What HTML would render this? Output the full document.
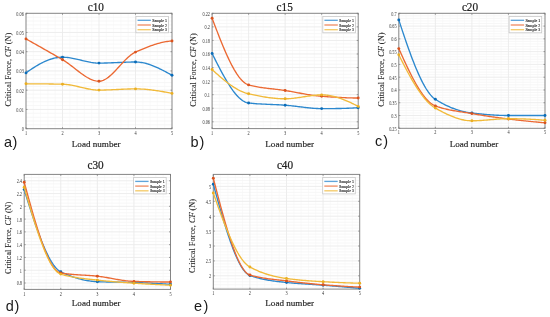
<!DOCTYPE html>
<html><head><meta charset="utf-8"><style>
html,body{margin:0;padding:0;background:#fff;}
svg{display:block;will-change:transform;}
text{font-family:"Liberation Serif",serif;}
.s{font-family:"Liberation Sans",sans-serif;}
</style></head><body>
<svg width="550" height="317" viewBox="0 0 550 317">
<rect width="550" height="317" fill="#fff"/>
<path d="M33.30,13.3V128.7 M40.60,13.3V128.7 M47.90,13.3V128.7 M55.20,13.3V128.7 M69.80,13.3V128.7 M77.10,13.3V128.7 M84.40,13.3V128.7 M91.70,13.3V128.7 M106.30,13.3V128.7 M113.60,13.3V128.7 M120.90,13.3V128.7 M128.20,13.3V128.7 M142.80,13.3V128.7 M150.10,13.3V128.7 M157.40,13.3V128.7 M164.70,13.3V128.7" stroke="#f9f9f9" stroke-width="0.8" fill="none"/>
<path d="M26.0,124.85H172.0 M26.0,121.01H172.0 M26.0,117.16H172.0 M26.0,113.31H172.0 M26.0,105.62H172.0 M26.0,101.77H172.0 M26.0,97.93H172.0 M26.0,94.08H172.0 M26.0,86.39H172.0 M26.0,82.54H172.0 M26.0,78.69H172.0 M26.0,74.85H172.0 M26.0,67.15H172.0 M26.0,63.31H172.0 M26.0,59.46H172.0 M26.0,55.61H172.0 M26.0,47.92H172.0 M26.0,44.07H172.0 M26.0,40.23H172.0 M26.0,36.38H172.0 M26.0,28.69H172.0 M26.0,24.84H172.0 M26.0,20.99H172.0 M26.0,17.15H172.0" stroke="#f5f5f5" stroke-width="0.8" fill="none"/>
<path d="M62.50,13.3V128.7 M99.00,13.3V128.7 M135.50,13.3V128.7 M26.0,109.45H172.0 M26.0,90.20H172.0 M26.0,70.95H172.0 M26.0,51.70H172.0 M26.0,32.45H172.0" stroke="#ebebeb" stroke-width="0.9" fill="none"/>
<rect x="26.0" y="13.3" width="146.00" height="115.40" fill="none" stroke="#858585" stroke-width="1.0"/>
<path d="M26.00,128.7v-1.5M26.00,13.3v1.5M62.50,128.7v-1.5M62.50,13.3v1.5M99.00,128.7v-1.5M99.00,13.3v1.5M135.50,128.7v-1.5M135.50,13.3v1.5M172.00,128.7v-1.5M172.00,13.3v1.5M26.0,128.70h1.5M172.0,128.70h-1.5M26.0,109.45h1.5M172.0,109.45h-1.5M26.0,90.20h1.5M172.0,90.20h-1.5M26.0,70.95h1.5M172.0,70.95h-1.5M26.0,51.70h1.5M172.0,51.70h-1.5M26.0,32.45h1.5M172.0,32.45h-1.5M26.0,13.30h1.5M172.0,13.30h-1.5" stroke="#777" stroke-width="0.7" fill="none"/>
<text transform="translate(26.00,134.80) scale(0.95,1.15)" font-size="4.5" fill="#333" text-anchor="middle">1</text>
<text transform="translate(62.50,134.80) scale(0.95,1.15)" font-size="4.5" fill="#333" text-anchor="middle">2</text>
<text transform="translate(99.00,134.80) scale(0.95,1.15)" font-size="4.5" fill="#333" text-anchor="middle">3</text>
<text transform="translate(135.50,134.80) scale(0.95,1.15)" font-size="4.5" fill="#333" text-anchor="middle">4</text>
<text transform="translate(172.00,134.80) scale(0.95,1.15)" font-size="4.5" fill="#333" text-anchor="middle">5</text>
<text transform="translate(23.80,131.10) scale(0.95,1.15)" font-size="4.5" fill="#333" text-anchor="end">0</text>
<text transform="translate(23.80,111.85) scale(0.95,1.15)" font-size="4.5" fill="#333" text-anchor="end">0.01</text>
<text transform="translate(23.80,92.60) scale(0.95,1.15)" font-size="4.5" fill="#333" text-anchor="end">0.02</text>
<text transform="translate(23.80,73.35) scale(0.95,1.15)" font-size="4.5" fill="#333" text-anchor="end">0.03</text>
<text transform="translate(23.80,54.10) scale(0.95,1.15)" font-size="4.5" fill="#333" text-anchor="end">0.04</text>
<text transform="translate(23.80,34.85) scale(0.95,1.15)" font-size="4.5" fill="#333" text-anchor="end">0.05</text>
<text transform="translate(23.80,15.70) scale(0.95,1.15)" font-size="4.5" fill="#333" text-anchor="end">0.06</text>
<path d="M26.00,72.90 27.23,72.02 28.45,71.15 29.68,70.29 30.91,69.46 32.13,68.64 33.36,67.84 34.59,67.06 35.82,66.30 37.04,65.56 38.27,64.85 39.50,64.16 40.72,63.49 41.95,62.86 43.18,62.25 44.40,61.67 45.63,61.12 46.86,60.60 48.08,60.11 49.31,59.66 50.54,59.24 51.76,58.86 52.99,58.51 54.22,58.20 55.45,57.93 56.67,57.71 57.90,57.52 59.13,57.37 60.35,57.27 61.58,57.21 62.81,57.20 64.03,57.23 65.26,57.30 66.49,57.40 67.71,57.53 68.94,57.69 70.17,57.87 71.39,58.08 72.62,58.31 73.85,58.56 75.08,58.82 76.30,59.09 77.53,59.38 78.76,59.67 79.98,59.96 81.21,60.26 82.44,60.56 83.66,60.85 84.89,61.14 86.12,61.41 87.34,61.68 88.57,61.93 89.80,62.16 91.03,62.38 92.25,62.57 93.48,62.74 94.71,62.87 95.93,62.98 97.16,63.06 98.39,63.10 99.61,63.10 100.84,63.09 102.07,63.08 103.29,63.06 104.52,63.03 105.75,63.00 106.97,62.97 108.20,62.93 109.43,62.88 110.66,62.84 111.88,62.79 113.11,62.73 114.34,62.68 115.56,62.63 116.79,62.57 118.02,62.52 119.24,62.46 120.47,62.41 121.70,62.35 122.92,62.30 124.15,62.25 125.38,62.21 126.61,62.16 127.83,62.13 129.06,62.09 130.29,62.06 131.51,62.04 132.74,62.02 133.97,62.01 135.19,62.00 136.42,62.01 137.65,62.07 138.87,62.16 140.10,62.30 141.33,62.47 142.55,62.68 143.78,62.93 145.01,63.21 146.24,63.52 147.46,63.87 148.69,64.25 149.92,64.65 151.14,65.08 152.37,65.54 153.60,66.03 154.82,66.53 156.05,67.06 157.28,67.61 158.50,68.18 159.73,68.77 160.96,69.37 162.18,69.99 163.41,70.62 164.64,71.26 165.87,71.91 167.09,72.58 168.32,73.25 169.55,73.93 170.77,74.61 172.00,75.30" stroke="#2C88CE" stroke-width="1.35" fill="none" stroke-linejoin="round"/>
<circle cx="26.00" cy="72.90" r="1.45" fill="#0A6CB8"/><circle cx="62.50" cy="57.20" r="1.45" fill="#0A6CB8"/><circle cx="99.00" cy="63.10" r="1.45" fill="#0A6CB8"/><circle cx="135.50" cy="62.00" r="1.45" fill="#0A6CB8"/><circle cx="172.00" cy="75.30" r="1.45" fill="#0A6CB8"/>
<path d="M26.00,38.90 27.23,39.59 28.45,40.28 29.68,40.97 30.91,41.66 32.13,42.35 33.36,43.04 34.59,43.73 35.82,44.42 37.04,45.12 38.27,45.81 39.50,46.51 40.72,47.21 41.95,47.90 43.18,48.60 44.40,49.30 45.63,50.00 46.86,50.70 48.08,51.40 49.31,52.10 50.54,52.81 51.76,53.51 52.99,54.21 54.22,54.92 55.45,55.63 56.67,56.33 57.90,57.04 59.13,57.75 60.35,58.46 61.58,59.17 62.81,59.88 64.03,60.63 65.26,61.42 66.49,62.25 67.71,63.11 68.94,64.00 70.17,64.92 71.39,65.86 72.62,66.81 73.85,67.76 75.08,68.73 76.30,69.69 77.53,70.65 78.76,71.59 79.98,72.52 81.21,73.43 82.44,74.31 83.66,75.17 84.89,75.98 86.12,76.76 87.34,77.49 88.57,78.17 89.80,78.79 91.03,79.36 92.25,79.86 93.48,80.28 94.71,80.64 95.93,80.91 97.16,81.09 98.39,81.19 99.61,81.18 100.84,81.02 102.07,80.72 103.29,80.28 104.52,79.72 105.75,79.03 106.97,78.24 108.20,77.35 109.43,76.37 110.66,75.31 111.88,74.18 113.11,72.99 114.34,71.75 115.56,70.47 116.79,69.16 118.02,67.82 119.24,66.48 120.47,65.13 121.70,63.79 122.92,62.46 124.15,61.16 125.38,59.90 126.61,58.68 127.83,57.52 129.06,56.42 130.29,55.40 131.51,54.46 132.74,53.61 133.97,52.87 135.19,52.24 136.42,51.70 137.65,51.16 138.87,50.63 140.10,50.10 141.33,49.57 142.55,49.06 143.78,48.55 145.01,48.05 146.24,47.56 147.46,47.08 148.69,46.61 149.92,46.15 151.14,45.70 152.37,45.27 153.60,44.85 154.82,44.45 156.05,44.07 157.28,43.70 158.50,43.35 159.73,43.03 160.96,42.72 162.18,42.43 163.41,42.16 164.64,41.92 165.87,41.70 167.09,41.51 168.32,41.34 169.55,41.20 170.77,41.09 172.00,41.00" stroke="#EB6933" stroke-width="1.35" fill="none" stroke-linejoin="round"/>
<circle cx="26.00" cy="38.90" r="1.45" fill="#D9531E"/><circle cx="62.50" cy="59.70" r="1.45" fill="#D9531E"/><circle cx="99.00" cy="81.20" r="1.45" fill="#D9531E"/><circle cx="135.50" cy="52.10" r="1.45" fill="#D9531E"/><circle cx="172.00" cy="41.00" r="1.45" fill="#D9531E"/>
<path d="M26.00,83.80 27.23,83.80 28.45,83.80 29.68,83.80 30.91,83.81 32.13,83.81 33.36,83.82 34.59,83.82 35.82,83.83 37.04,83.84 38.27,83.85 39.50,83.86 40.72,83.87 41.95,83.88 43.18,83.89 44.40,83.91 45.63,83.92 46.86,83.94 48.08,83.95 49.31,83.97 50.54,83.99 51.76,84.01 52.99,84.03 54.22,84.05 55.45,84.07 56.67,84.09 57.90,84.11 59.13,84.13 60.35,84.16 61.58,84.18 62.81,84.21 64.03,84.26 65.26,84.34 66.49,84.46 67.71,84.61 68.94,84.78 70.17,84.97 71.39,85.18 72.62,85.42 73.85,85.67 75.08,85.93 76.30,86.20 77.53,86.48 78.76,86.77 79.98,87.06 81.21,87.35 82.44,87.64 83.66,87.93 84.89,88.21 86.12,88.47 87.34,88.73 88.57,88.97 89.80,89.20 91.03,89.41 92.25,89.59 93.48,89.75 94.71,89.88 95.93,89.99 97.16,90.06 98.39,90.10 99.61,90.10 100.84,90.09 102.07,90.08 103.29,90.05 104.52,90.03 105.75,89.99 106.97,89.95 108.20,89.91 109.43,89.86 110.66,89.81 111.88,89.76 113.11,89.70 114.34,89.64 115.56,89.58 116.79,89.52 118.02,89.46 119.24,89.40 120.47,89.34 121.70,89.29 122.92,89.23 124.15,89.18 125.38,89.13 126.61,89.08 127.83,89.04 129.06,89.00 130.29,88.97 131.51,88.94 132.74,88.92 133.97,88.91 135.19,88.90 136.42,88.90 137.65,88.92 138.87,88.95 140.10,88.99 141.33,89.05 142.55,89.12 143.78,89.20 145.01,89.29 146.24,89.39 147.46,89.50 148.69,89.63 149.92,89.76 151.14,89.90 152.37,90.05 153.60,90.21 154.82,90.38 156.05,90.56 157.28,90.74 158.50,90.93 159.73,91.13 160.96,91.33 162.18,91.54 163.41,91.76 164.64,91.98 165.87,92.21 167.09,92.44 168.32,92.67 169.55,92.91 170.77,93.15 172.00,93.40" stroke="#F1BA3A" stroke-width="1.35" fill="none" stroke-linejoin="round"/>
<circle cx="26.00" cy="83.80" r="1.45" fill="#EAAE22"/><circle cx="62.50" cy="84.20" r="1.45" fill="#EAAE22"/><circle cx="99.00" cy="90.10" r="1.45" fill="#EAAE22"/><circle cx="135.50" cy="88.90" r="1.45" fill="#EAAE22"/><circle cx="172.00" cy="93.40" r="1.45" fill="#EAAE22"/>
<rect x="135.90" y="16.40" width="32.6" height="16.4" fill="#fff" stroke="#c8c8c8" stroke-width="0.8"/>
<path d="M137.50,20.30h13.4" stroke="#2C88CE" stroke-width="1.35" opacity="0.75"/>
<text x="152.20" y="21.90" font-size="4.9" fill="#1a1a1a" stroke="#1a1a1a" stroke-width="0.12" textLength="14.9" lengthAdjust="spacingAndGlyphs">Sample 1</text>
<path d="M137.50,25.00h13.4" stroke="#EB6933" stroke-width="1.35" opacity="0.75"/>
<text x="152.20" y="26.60" font-size="4.9" fill="#1a1a1a" stroke="#1a1a1a" stroke-width="0.12" textLength="14.9" lengthAdjust="spacingAndGlyphs">Sample 2</text>
<path d="M137.50,29.70h13.4" stroke="#F1BA3A" stroke-width="1.35" opacity="0.75"/>
<text x="152.20" y="31.30" font-size="4.9" fill="#1a1a1a" stroke="#1a1a1a" stroke-width="0.12" textLength="14.9" lengthAdjust="spacingAndGlyphs">Sample 3</text>
<text x="95.8" y="10.5" font-size="11.5" fill="#222" stroke="#222" stroke-width="0.22" text-anchor="middle" textLength="16.2" lengthAdjust="spacingAndGlyphs">c10</text>
<text x="96.2" y="147.3" font-size="9.1" fill="#222" stroke="#222" stroke-width="0.15" text-anchor="middle">Load number</text>
<text transform="translate(11.1,69.7) rotate(-90)" font-size="8.3" fill="#2a2a2a" stroke="#2a2a2a" stroke-width="0.1" text-anchor="middle" textLength="73.7" lengthAdjust="spacingAndGlyphs">Critical Force, <tspan font-style="italic">CF</tspan> (N)</text>
<text class="s" x="4.0" y="147.2" font-size="14.5" fill="#1a1a1a">a</text>
<text class="s" x="12.6" y="147.2" font-size="14.5" fill="#1a1a1a">)</text>
<path d="M219.41,13.3V128.6 M226.71,13.3V128.6 M234.01,13.3V128.6 M241.32,13.3V128.6 M255.93,13.3V128.6 M263.24,13.3V128.6 M270.54,13.3V128.6 M277.84,13.3V128.6 M292.45,13.3V128.6 M299.76,13.3V128.6 M307.06,13.3V128.6 M314.37,13.3V128.6 M328.98,13.3V128.6 M336.28,13.3V128.6 M343.59,13.3V128.6 M350.89,13.3V128.6" stroke="#f9f9f9" stroke-width="0.8" fill="none"/>
<path d="M212.1,125.19H358.2 M212.1,118.41H358.2 M212.1,115.02H358.2 M212.1,111.63H358.2 M212.1,104.85H358.2 M212.1,101.46H358.2 M212.1,98.07H358.2 M212.1,91.28H358.2 M212.1,87.89H358.2 M212.1,84.50H358.2 M212.1,77.72H358.2 M212.1,74.33H358.2 M212.1,70.94H358.2 M212.1,64.16H358.2 M212.1,60.77H358.2 M212.1,57.38H358.2 M212.1,50.60H358.2 M212.1,47.21H358.2 M212.1,43.82H358.2 M212.1,37.03H358.2 M212.1,33.64H358.2 M212.1,30.25H358.2 M212.1,23.47H358.2 M212.1,20.08H358.2 M212.1,16.69H358.2" stroke="#f5f5f5" stroke-width="0.8" fill="none"/>
<path d="M248.62,13.3V128.6 M285.15,13.3V128.6 M321.67,13.3V128.6 M212.1,121.80H358.2 M212.1,108.24H358.2 M212.1,94.68H358.2 M212.1,81.11H358.2 M212.1,67.55H358.2 M212.1,53.99H358.2 M212.1,40.43H358.2 M212.1,26.86H358.2" stroke="#ebebeb" stroke-width="0.9" fill="none"/>
<rect x="212.1" y="13.3" width="146.10" height="115.30" fill="none" stroke="#858585" stroke-width="1.0"/>
<path d="M212.10,128.6v-1.5M212.10,13.3v1.5M248.62,128.6v-1.5M248.62,13.3v1.5M285.15,128.6v-1.5M285.15,13.3v1.5M321.67,128.6v-1.5M321.67,13.3v1.5M358.20,128.6v-1.5M358.20,13.3v1.5M212.1,121.80h1.5M358.2,121.80h-1.5M212.1,108.24h1.5M358.2,108.24h-1.5M212.1,94.68h1.5M358.2,94.68h-1.5M212.1,81.11h1.5M358.2,81.11h-1.5M212.1,67.55h1.5M358.2,67.55h-1.5M212.1,53.99h1.5M358.2,53.99h-1.5M212.1,40.43h1.5M358.2,40.43h-1.5M212.1,26.86h1.5M358.2,26.86h-1.5M212.1,13.30h1.5M358.2,13.30h-1.5" stroke="#777" stroke-width="0.7" fill="none"/>
<text transform="translate(212.10,134.70) scale(0.95,1.15)" font-size="4.5" fill="#333" text-anchor="middle">1</text>
<text transform="translate(248.62,134.70) scale(0.95,1.15)" font-size="4.5" fill="#333" text-anchor="middle">2</text>
<text transform="translate(285.15,134.70) scale(0.95,1.15)" font-size="4.5" fill="#333" text-anchor="middle">3</text>
<text transform="translate(321.67,134.70) scale(0.95,1.15)" font-size="4.5" fill="#333" text-anchor="middle">4</text>
<text transform="translate(358.20,134.70) scale(0.95,1.15)" font-size="4.5" fill="#333" text-anchor="middle">5</text>
<text transform="translate(209.90,124.20) scale(0.95,1.15)" font-size="4.5" fill="#333" text-anchor="end">0.06</text>
<text transform="translate(209.90,110.64) scale(0.95,1.15)" font-size="4.5" fill="#333" text-anchor="end">0.08</text>
<text transform="translate(209.90,97.08) scale(0.95,1.15)" font-size="4.5" fill="#333" text-anchor="end">0.1</text>
<text transform="translate(209.90,83.51) scale(0.95,1.15)" font-size="4.5" fill="#333" text-anchor="end">0.12</text>
<text transform="translate(209.90,69.95) scale(0.95,1.15)" font-size="4.5" fill="#333" text-anchor="end">0.14</text>
<text transform="translate(209.90,56.39) scale(0.95,1.15)" font-size="4.5" fill="#333" text-anchor="end">0.16</text>
<text transform="translate(209.90,42.83) scale(0.95,1.15)" font-size="4.5" fill="#333" text-anchor="end">0.18</text>
<text transform="translate(209.90,29.26) scale(0.95,1.15)" font-size="4.5" fill="#333" text-anchor="end">0.2</text>
<text transform="translate(209.90,15.70) scale(0.95,1.15)" font-size="4.5" fill="#333" text-anchor="end">0.22</text>
<path d="M212.10,53.50 213.33,55.96 214.56,58.40 215.78,60.83 217.01,63.25 218.24,65.63 219.47,67.99 220.69,70.32 221.92,72.60 223.15,74.85 224.38,77.04 225.61,79.18 226.83,81.26 228.06,83.27 229.29,85.22 230.52,87.10 231.74,88.89 232.97,90.61 234.20,92.23 235.43,93.76 236.65,95.19 237.88,96.52 239.11,97.74 240.34,98.85 241.57,99.84 242.79,100.71 244.02,101.45 245.25,102.06 246.48,102.53 247.70,102.85 248.93,103.04 250.16,103.17 251.39,103.29 252.62,103.41 253.84,103.52 255.07,103.62 256.30,103.71 257.53,103.80 258.75,103.88 259.98,103.95 261.21,104.02 262.44,104.08 263.66,104.15 264.89,104.20 266.12,104.26 267.35,104.31 268.58,104.36 269.80,104.42 271.03,104.47 272.26,104.52 273.49,104.57 274.71,104.62 275.94,104.67 277.17,104.73 278.40,104.79 279.63,104.85 280.85,104.92 282.08,104.99 283.31,105.07 284.54,105.16 285.76,105.25 286.99,105.35 288.22,105.46 289.45,105.57 290.67,105.70 291.90,105.83 293.13,105.97 294.36,106.12 295.59,106.26 296.81,106.41 298.04,106.57 299.27,106.72 300.50,106.87 301.72,107.03 302.95,107.18 304.18,107.33 305.41,107.47 306.64,107.61 307.86,107.75 309.09,107.88 310.32,108.00 311.55,108.11 312.77,108.21 314.00,108.31 315.23,108.39 316.46,108.46 317.68,108.52 318.91,108.56 320.14,108.59 321.37,108.60 322.60,108.60 323.82,108.60 325.05,108.60 326.28,108.60 327.51,108.60 328.73,108.59 329.96,108.59 331.19,108.58 332.42,108.58 333.65,108.57 334.87,108.56 336.10,108.54 337.33,108.53 338.56,108.51 339.78,108.49 341.01,108.47 342.24,108.44 343.47,108.41 344.69,108.37 345.92,108.34 347.15,108.29 348.38,108.25 349.61,108.20 350.83,108.14 352.06,108.08 353.29,108.02 354.52,107.95 355.74,107.87 356.97,107.79 358.20,107.70" stroke="#2C88CE" stroke-width="1.35" fill="none" stroke-linejoin="round"/>
<circle cx="212.10" cy="53.50" r="1.45" fill="#0A6CB8"/><circle cx="248.62" cy="103.00" r="1.45" fill="#0A6CB8"/><circle cx="285.15" cy="105.20" r="1.45" fill="#0A6CB8"/><circle cx="321.67" cy="108.60" r="1.45" fill="#0A6CB8"/><circle cx="358.20" cy="107.70" r="1.45" fill="#0A6CB8"/>
<path d="M212.10,18.20 213.33,21.46 214.56,24.71 215.78,27.93 217.01,31.13 218.24,34.29 219.47,37.41 220.69,40.48 221.92,43.51 223.15,46.47 224.38,49.37 225.61,52.21 226.83,54.96 228.06,57.64 229.29,60.23 230.52,62.72 231.74,65.12 232.97,67.41 234.20,69.59 235.43,71.65 236.65,73.60 237.88,75.41 239.11,77.09 240.34,78.63 241.57,80.02 242.79,81.26 244.02,82.34 245.25,83.26 246.48,84.01 247.70,84.59 248.93,84.99 250.16,85.32 251.39,85.63 252.62,85.92 253.84,86.19 255.07,86.45 256.30,86.69 257.53,86.92 258.75,87.13 259.98,87.33 261.21,87.52 262.44,87.70 263.66,87.87 264.89,88.03 266.12,88.19 267.35,88.33 268.58,88.48 269.80,88.62 271.03,88.75 272.26,88.89 273.49,89.03 274.71,89.16 275.94,89.30 277.17,89.44 278.40,89.58 279.63,89.73 280.85,89.89 282.08,90.05 283.31,90.22 284.54,90.41 285.76,90.60 286.99,90.80 288.22,91.00 289.45,91.21 290.67,91.43 291.90,91.65 293.13,91.87 294.36,92.10 295.59,92.33 296.81,92.56 298.04,92.79 299.27,93.02 300.50,93.25 301.72,93.47 302.95,93.70 304.18,93.92 305.41,94.14 306.64,94.35 307.86,94.56 309.09,94.76 310.32,94.96 311.55,95.15 312.77,95.32 314.00,95.49 315.23,95.65 316.46,95.80 317.68,95.94 318.91,96.07 320.14,96.18 321.37,96.28 322.60,96.37 323.82,96.45 325.05,96.54 326.28,96.63 327.51,96.71 328.73,96.80 329.96,96.88 331.19,96.96 332.42,97.04 333.65,97.12 334.87,97.19 336.10,97.27 337.33,97.34 338.56,97.41 339.78,97.47 341.01,97.53 342.24,97.59 343.47,97.65 344.69,97.70 345.92,97.75 347.15,97.80 348.38,97.84 349.61,97.87 350.83,97.91 352.06,97.93 353.29,97.96 354.52,97.98 355.74,97.99 356.97,98.00 358.20,98.00" stroke="#EB6933" stroke-width="1.35" fill="none" stroke-linejoin="round"/>
<circle cx="212.10" cy="18.20" r="1.45" fill="#D9531E"/><circle cx="248.62" cy="84.90" r="1.45" fill="#D9531E"/><circle cx="285.15" cy="90.50" r="1.45" fill="#D9531E"/><circle cx="321.67" cy="96.30" r="1.45" fill="#D9531E"/><circle cx="358.20" cy="98.00" r="1.45" fill="#D9531E"/>
<path d="M212.10,69.50 213.33,70.64 214.56,71.77 215.78,72.88 217.01,73.99 218.24,75.08 219.47,76.16 220.69,77.22 221.92,78.27 223.15,79.29 224.38,80.30 225.61,81.28 226.83,82.24 228.06,83.18 229.29,84.08 230.52,84.97 231.74,85.82 232.97,86.64 234.20,87.43 235.43,88.18 236.65,88.90 237.88,89.59 239.11,90.23 240.34,90.84 241.57,91.41 242.79,91.93 244.02,92.41 245.25,92.85 246.48,93.24 247.70,93.58 248.93,93.87 250.16,94.15 251.39,94.42 252.62,94.68 253.84,94.95 255.07,95.20 256.30,95.46 257.53,95.70 258.75,95.94 259.98,96.17 261.21,96.40 262.44,96.62 263.66,96.83 264.89,97.03 266.12,97.22 267.35,97.40 268.58,97.58 269.80,97.74 271.03,97.90 272.26,98.04 273.49,98.17 274.71,98.29 275.94,98.40 277.17,98.50 278.40,98.58 279.63,98.65 280.85,98.71 282.08,98.75 283.31,98.78 284.54,98.80 285.76,98.80 286.99,98.77 288.22,98.72 289.45,98.65 290.67,98.56 291.90,98.45 293.13,98.32 294.36,98.18 295.59,98.03 296.81,97.86 298.04,97.69 299.27,97.50 300.50,97.31 301.72,97.12 302.95,96.92 304.18,96.73 305.41,96.53 306.64,96.34 307.86,96.15 309.09,95.97 310.32,95.80 311.55,95.63 312.77,95.48 314.00,95.34 315.23,95.22 316.46,95.12 317.68,95.03 318.91,94.96 320.14,94.92 321.37,94.90 322.60,94.91 323.82,94.95 325.05,95.03 326.28,95.14 327.51,95.27 328.73,95.44 329.96,95.64 331.19,95.87 332.42,96.13 333.65,96.41 334.87,96.72 336.10,97.05 337.33,97.41 338.56,97.79 339.78,98.20 341.01,98.62 342.24,99.07 343.47,99.54 344.69,100.03 345.92,100.53 347.15,101.05 348.38,101.59 349.61,102.15 350.83,102.72 352.06,103.30 353.29,103.90 354.52,104.51 355.74,105.13 356.97,105.76 358.20,106.40" stroke="#F1BA3A" stroke-width="1.35" fill="none" stroke-linejoin="round"/>
<circle cx="212.10" cy="69.50" r="1.45" fill="#EAAE22"/><circle cx="248.62" cy="93.80" r="1.45" fill="#EAAE22"/><circle cx="285.15" cy="98.80" r="1.45" fill="#EAAE22"/><circle cx="321.67" cy="94.90" r="1.45" fill="#EAAE22"/><circle cx="358.20" cy="106.40" r="1.45" fill="#EAAE22"/>
<rect x="322.80" y="16.40" width="32.6" height="16.4" fill="#fff" stroke="#c8c8c8" stroke-width="0.8"/>
<path d="M324.40,20.30h13.4" stroke="#2C88CE" stroke-width="1.35" opacity="0.75"/>
<text x="339.10" y="21.90" font-size="4.9" fill="#1a1a1a" stroke="#1a1a1a" stroke-width="0.12" textLength="14.9" lengthAdjust="spacingAndGlyphs">Sample 1</text>
<path d="M324.40,25.00h13.4" stroke="#EB6933" stroke-width="1.35" opacity="0.75"/>
<text x="339.10" y="26.60" font-size="4.9" fill="#1a1a1a" stroke="#1a1a1a" stroke-width="0.12" textLength="14.9" lengthAdjust="spacingAndGlyphs">Sample 2</text>
<path d="M324.40,29.70h13.4" stroke="#F1BA3A" stroke-width="1.35" opacity="0.75"/>
<text x="339.10" y="31.30" font-size="4.9" fill="#1a1a1a" stroke="#1a1a1a" stroke-width="0.12" textLength="14.9" lengthAdjust="spacingAndGlyphs">Sample 3</text>
<text x="284.7" y="10.5" font-size="11.5" fill="#222" stroke="#222" stroke-width="0.22" text-anchor="middle" textLength="16.2" lengthAdjust="spacingAndGlyphs">c15</text>
<text x="289.7" y="147.3" font-size="9.1" fill="#222" stroke="#222" stroke-width="0.15" text-anchor="middle">Load number</text>
<text transform="translate(196.0,70.0) rotate(-90)" font-size="8.3" fill="#2a2a2a" stroke="#2a2a2a" stroke-width="0.1" text-anchor="middle" textLength="73.6" lengthAdjust="spacingAndGlyphs">Critical Force, <tspan font-style="italic">CF</tspan> (N)</text>
<text class="s" x="190.6" y="147.2" font-size="14.5" fill="#1a1a1a">b</text>
<text class="s" x="199.6" y="147.2" font-size="14.5" fill="#1a1a1a">)</text>
<path d="M406.11,13.3V128.3 M413.42,13.3V128.3 M420.73,13.3V128.3 M428.04,13.3V128.3 M442.66,13.3V128.3 M449.97,13.3V128.3 M457.28,13.3V128.3 M464.59,13.3V128.3 M479.21,13.3V128.3 M486.52,13.3V128.3 M493.83,13.3V128.3 M501.14,13.3V128.3 M515.76,13.3V128.3 M523.07,13.3V128.3 M530.38,13.3V128.3 M537.69,13.3V128.3" stroke="#f9f9f9" stroke-width="0.8" fill="none"/>
<path d="M398.8,125.74H545.0 M398.8,123.19H545.0 M398.8,120.63H545.0 M398.8,118.08H545.0 M398.8,112.97H545.0 M398.8,110.41H545.0 M398.8,107.86H545.0 M398.8,105.30H545.0 M398.8,100.19H545.0 M398.8,97.63H545.0 M398.8,95.08H545.0 M398.8,92.52H545.0 M398.8,87.41H545.0 M398.8,84.86H545.0 M398.8,82.30H545.0 M398.8,79.74H545.0 M398.8,74.63H545.0 M398.8,72.08H545.0 M398.8,69.52H545.0 M398.8,66.97H545.0 M398.8,61.86H545.0 M398.8,59.30H545.0 M398.8,56.74H545.0 M398.8,54.19H545.0 M398.8,49.08H545.0 M398.8,46.52H545.0 M398.8,43.97H545.0 M398.8,41.41H545.0 M398.8,36.30H545.0 M398.8,33.74H545.0 M398.8,31.19H545.0 M398.8,28.63H545.0 M398.8,23.52H545.0 M398.8,20.97H545.0 M398.8,18.41H545.0 M398.8,15.86H545.0" stroke="#f5f5f5" stroke-width="0.8" fill="none"/>
<path d="M435.35,13.3V128.3 M471.90,13.3V128.3 M508.45,13.3V128.3 M398.8,115.52H545.0 M398.8,102.74H545.0 M398.8,89.97H545.0 M398.8,77.19H545.0 M398.8,64.41H545.0 M398.8,51.63H545.0 M398.8,38.86H545.0 M398.8,26.08H545.0" stroke="#ebebeb" stroke-width="0.9" fill="none"/>
<rect x="398.8" y="13.3" width="146.20" height="115.00" fill="none" stroke="#858585" stroke-width="1.0"/>
<path d="M398.80,128.3v-1.5M398.80,13.3v1.5M435.35,128.3v-1.5M435.35,13.3v1.5M471.90,128.3v-1.5M471.90,13.3v1.5M508.45,128.3v-1.5M508.45,13.3v1.5M545.00,128.3v-1.5M545.00,13.3v1.5M398.8,128.30h1.5M545.0,128.30h-1.5M398.8,115.52h1.5M545.0,115.52h-1.5M398.8,102.74h1.5M545.0,102.74h-1.5M398.8,89.97h1.5M545.0,89.97h-1.5M398.8,77.19h1.5M545.0,77.19h-1.5M398.8,64.41h1.5M545.0,64.41h-1.5M398.8,51.63h1.5M545.0,51.63h-1.5M398.8,38.86h1.5M545.0,38.86h-1.5M398.8,26.08h1.5M545.0,26.08h-1.5M398.8,13.30h1.5M545.0,13.30h-1.5" stroke="#777" stroke-width="0.7" fill="none"/>
<text transform="translate(398.80,134.40) scale(0.95,1.15)" font-size="4.5" fill="#333" text-anchor="middle">1</text>
<text transform="translate(435.35,134.40) scale(0.95,1.15)" font-size="4.5" fill="#333" text-anchor="middle">2</text>
<text transform="translate(471.90,134.40) scale(0.95,1.15)" font-size="4.5" fill="#333" text-anchor="middle">3</text>
<text transform="translate(508.45,134.40) scale(0.95,1.15)" font-size="4.5" fill="#333" text-anchor="middle">4</text>
<text transform="translate(545.00,134.40) scale(0.95,1.15)" font-size="4.5" fill="#333" text-anchor="middle">5</text>
<text transform="translate(396.60,130.70) scale(0.95,1.15)" font-size="4.5" fill="#333" text-anchor="end">0.25</text>
<text transform="translate(396.60,117.92) scale(0.95,1.15)" font-size="4.5" fill="#333" text-anchor="end">0.3</text>
<text transform="translate(396.60,105.14) scale(0.95,1.15)" font-size="4.5" fill="#333" text-anchor="end">0.35</text>
<text transform="translate(396.60,92.37) scale(0.95,1.15)" font-size="4.5" fill="#333" text-anchor="end">0.4</text>
<text transform="translate(396.60,79.59) scale(0.95,1.15)" font-size="4.5" fill="#333" text-anchor="end">0.45</text>
<text transform="translate(396.60,66.81) scale(0.95,1.15)" font-size="4.5" fill="#333" text-anchor="end">0.5</text>
<text transform="translate(396.60,54.03) scale(0.95,1.15)" font-size="4.5" fill="#333" text-anchor="end">0.55</text>
<text transform="translate(396.60,41.26) scale(0.95,1.15)" font-size="4.5" fill="#333" text-anchor="end">0.6</text>
<text transform="translate(396.60,28.48) scale(0.95,1.15)" font-size="4.5" fill="#333" text-anchor="end">0.65</text>
<text transform="translate(396.60,15.70) scale(0.95,1.15)" font-size="4.5" fill="#333" text-anchor="end">0.7</text>
<path d="M398.80,19.90 400.03,23.66 401.26,27.40 402.49,31.10 403.71,34.76 404.94,38.38 406.17,41.96 407.40,45.47 408.63,48.93 409.86,52.33 411.09,55.66 412.31,58.91 413.54,62.08 414.77,65.17 416.00,68.17 417.23,71.07 418.46,73.87 419.69,76.56 420.91,79.14 422.14,81.61 423.37,83.95 424.60,86.16 425.83,88.25 427.06,90.19 428.29,91.99 429.51,93.64 430.74,95.14 431.97,96.48 433.20,97.66 434.43,98.66 435.66,99.50 436.89,100.26 438.11,101.01 439.34,101.74 440.57,102.44 441.80,103.12 443.03,103.78 444.26,104.41 445.49,105.03 446.71,105.62 447.94,106.19 449.17,106.74 450.40,107.26 451.63,107.77 452.86,108.25 454.09,108.71 455.31,109.15 456.54,109.57 457.77,109.97 459.00,110.34 460.23,110.70 461.46,111.03 462.69,111.34 463.91,111.63 465.14,111.90 466.37,112.15 467.60,112.37 468.83,112.58 470.06,112.76 471.29,112.93 472.51,113.07 473.74,113.21 474.97,113.35 476.20,113.48 477.43,113.62 478.66,113.74 479.89,113.87 481.11,113.99 482.34,114.11 483.57,114.23 484.80,114.34 486.03,114.45 487.26,114.55 488.49,114.65 489.71,114.74 490.94,114.83 492.17,114.92 493.40,115.00 494.63,115.07 495.86,115.14 497.09,115.21 498.31,115.26 499.54,115.32 500.77,115.36 502.00,115.40 503.23,115.44 504.46,115.46 505.69,115.48 506.91,115.49 508.14,115.50 509.37,115.50 510.60,115.50 511.83,115.50 513.06,115.50 514.29,115.50 515.51,115.50 516.74,115.50 517.97,115.50 519.20,115.50 520.43,115.50 521.66,115.50 522.89,115.50 524.11,115.50 525.34,115.50 526.57,115.50 527.80,115.50 529.03,115.50 530.26,115.50 531.49,115.50 532.71,115.50 533.94,115.50 535.17,115.50 536.40,115.50 537.63,115.50 538.86,115.50 540.09,115.50 541.31,115.50 542.54,115.50 543.77,115.50 545.00,115.50" stroke="#2C88CE" stroke-width="1.35" fill="none" stroke-linejoin="round"/>
<circle cx="398.80" cy="19.90" r="1.45" fill="#0A6CB8"/><circle cx="435.35" cy="99.30" r="1.45" fill="#0A6CB8"/><circle cx="471.90" cy="113.00" r="1.45" fill="#0A6CB8"/><circle cx="508.45" cy="115.50" r="1.45" fill="#0A6CB8"/><circle cx="545.00" cy="115.50" r="1.45" fill="#0A6CB8"/>
<path d="M398.80,48.60 400.03,51.35 401.26,54.09 402.49,56.80 403.71,59.49 404.94,62.14 406.17,64.76 407.40,67.35 408.63,69.88 409.86,72.38 411.09,74.81 412.31,77.20 413.54,79.52 414.77,81.77 416.00,83.96 417.23,86.08 418.46,88.11 419.69,90.06 420.91,91.93 422.14,93.71 423.37,95.39 424.60,96.97 425.83,98.45 427.06,99.82 428.29,101.07 429.51,102.21 430.74,103.23 431.97,104.12 433.20,104.89 434.43,105.52 435.66,106.01 436.89,106.45 438.11,106.87 439.34,107.26 440.57,107.64 441.80,108.00 443.03,108.33 444.26,108.66 445.49,108.96 446.71,109.25 447.94,109.53 449.17,109.79 450.40,110.04 451.63,110.28 452.86,110.51 454.09,110.74 455.31,110.95 456.54,111.16 457.77,111.36 459.00,111.56 460.23,111.75 461.46,111.94 462.69,112.13 463.91,112.32 465.14,112.51 466.37,112.70 467.60,112.89 468.83,113.09 470.06,113.29 471.29,113.49 472.51,113.71 473.74,113.92 474.97,114.13 476.20,114.33 477.43,114.54 478.66,114.74 479.89,114.94 481.11,115.14 482.34,115.34 483.57,115.53 484.80,115.72 486.03,115.91 487.26,116.10 488.49,116.28 489.71,116.47 490.94,116.65 492.17,116.83 493.40,117.00 494.63,117.18 495.86,117.35 497.09,117.52 498.31,117.69 499.54,117.86 500.77,118.02 502.00,118.18 503.23,118.34 504.46,118.50 505.69,118.66 506.91,118.81 508.14,118.96 509.37,119.11 510.60,119.26 511.83,119.41 513.06,119.55 514.29,119.70 515.51,119.84 516.74,119.98 517.97,120.12 519.20,120.26 520.43,120.40 521.66,120.54 522.89,120.67 524.11,120.81 525.34,120.94 526.57,121.07 527.80,121.19 529.03,121.32 530.26,121.45 531.49,121.57 532.71,121.69 533.94,121.81 535.17,121.93 536.40,122.04 537.63,122.16 538.86,122.27 540.09,122.38 541.31,122.49 542.54,122.59 543.77,122.70 545.00,122.80" stroke="#EB6933" stroke-width="1.35" fill="none" stroke-linejoin="round"/>
<circle cx="398.80" cy="48.60" r="1.45" fill="#D9531E"/><circle cx="435.35" cy="105.90" r="1.45" fill="#D9531E"/><circle cx="471.90" cy="113.60" r="1.45" fill="#D9531E"/><circle cx="508.45" cy="119.00" r="1.45" fill="#D9531E"/><circle cx="545.00" cy="122.80" r="1.45" fill="#D9531E"/>
<path d="M398.80,54.80 400.03,57.26 401.26,59.71 402.49,62.13 403.71,64.52 404.94,66.89 406.17,69.22 407.40,71.52 408.63,73.78 409.86,76.00 411.09,78.18 412.31,80.31 413.54,82.40 414.77,84.43 416.00,86.40 417.23,88.32 418.46,90.18 419.69,91.98 420.91,93.71 422.14,95.37 423.37,96.95 424.60,98.47 425.83,99.90 427.06,101.26 428.29,102.53 429.51,103.72 430.74,104.82 431.97,105.83 433.20,106.74 434.43,107.55 435.66,108.27 436.89,108.96 438.11,109.63 439.34,110.30 440.57,110.96 441.80,111.60 443.03,112.23 444.26,112.85 445.49,113.46 446.71,114.05 447.94,114.62 449.17,115.17 450.40,115.71 451.63,116.22 452.86,116.72 454.09,117.19 455.31,117.64 456.54,118.06 457.77,118.45 459.00,118.82 460.23,119.17 461.46,119.48 462.69,119.76 463.91,120.01 465.14,120.23 466.37,120.41 467.60,120.56 468.83,120.68 470.06,120.76 471.29,120.80 472.51,120.80 473.74,120.78 474.97,120.76 476.20,120.72 477.43,120.67 478.66,120.61 479.89,120.54 481.11,120.47 482.34,120.38 483.57,120.29 484.80,120.20 486.03,120.10 487.26,120.00 488.49,119.90 489.71,119.79 490.94,119.68 492.17,119.58 493.40,119.47 494.63,119.37 495.86,119.28 497.09,119.18 498.31,119.09 499.54,119.01 500.77,118.94 502.00,118.87 503.23,118.82 504.46,118.77 505.69,118.73 506.91,118.71 508.14,118.70 509.37,118.70 510.60,118.70 511.83,118.71 513.06,118.72 514.29,118.74 515.51,118.75 516.74,118.77 517.97,118.80 519.20,118.82 520.43,118.85 521.66,118.89 522.89,118.93 524.11,118.97 525.34,119.01 526.57,119.06 527.80,119.12 529.03,119.17 530.26,119.23 531.49,119.30 532.71,119.37 533.94,119.44 535.17,119.52 536.40,119.60 537.63,119.69 538.86,119.78 540.09,119.87 541.31,119.97 542.54,120.08 543.77,120.19 545.00,120.30" stroke="#F1BA3A" stroke-width="1.35" fill="none" stroke-linejoin="round"/>
<circle cx="398.80" cy="54.80" r="1.45" fill="#EAAE22"/><circle cx="435.35" cy="108.10" r="1.45" fill="#EAAE22"/><circle cx="471.90" cy="120.80" r="1.45" fill="#EAAE22"/><circle cx="508.45" cy="118.70" r="1.45" fill="#EAAE22"/><circle cx="545.00" cy="120.30" r="1.45" fill="#EAAE22"/>
<rect x="509.10" y="16.40" width="32.6" height="16.4" fill="#fff" stroke="#c8c8c8" stroke-width="0.8"/>
<path d="M510.70,20.30h13.4" stroke="#2C88CE" stroke-width="1.35" opacity="0.75"/>
<text x="525.40" y="21.90" font-size="4.9" fill="#1a1a1a" stroke="#1a1a1a" stroke-width="0.12" textLength="14.9" lengthAdjust="spacingAndGlyphs">Sample 1</text>
<path d="M510.70,25.00h13.4" stroke="#EB6933" stroke-width="1.35" opacity="0.75"/>
<text x="525.40" y="26.60" font-size="4.9" fill="#1a1a1a" stroke="#1a1a1a" stroke-width="0.12" textLength="14.9" lengthAdjust="spacingAndGlyphs">Sample 2</text>
<path d="M510.70,29.70h13.4" stroke="#F1BA3A" stroke-width="1.35" opacity="0.75"/>
<text x="525.40" y="31.30" font-size="4.9" fill="#1a1a1a" stroke="#1a1a1a" stroke-width="0.12" textLength="14.9" lengthAdjust="spacingAndGlyphs">Sample 3</text>
<text x="470.0" y="10.5" font-size="11.5" fill="#222" stroke="#222" stroke-width="0.22" text-anchor="middle" textLength="16.2" lengthAdjust="spacingAndGlyphs">c20</text>
<text x="474.0" y="147.3" font-size="9.1" fill="#222" stroke="#222" stroke-width="0.15" text-anchor="middle">Load number</text>
<text transform="translate(383.7,69.7) rotate(-90)" font-size="8.3" fill="#2a2a2a" stroke="#2a2a2a" stroke-width="0.1" text-anchor="middle" textLength="74.2" lengthAdjust="spacingAndGlyphs">Critical Force, <tspan font-style="italic">CF</tspan> (N)</text>
<text class="s" x="375.0" y="146.4" font-size="14.5" fill="#1a1a1a">c</text>
<text class="s" x="383.3" y="146.4" font-size="14.5" fill="#1a1a1a">)</text>
<path d="M31.52,174.4V289.4 M38.83,174.4V289.4 M46.14,174.4V289.4 M53.46,174.4V289.4 M68.09,174.4V289.4 M75.41,174.4V289.4 M82.72,174.4V289.4 M90.04,174.4V289.4 M104.67,174.4V289.4 M111.98,174.4V289.4 M119.30,174.4V289.4 M126.61,174.4V289.4 M141.24,174.4V289.4 M148.56,174.4V289.4 M155.87,174.4V289.4 M163.19,174.4V289.4" stroke="#f9f9f9" stroke-width="0.8" fill="none"/>
<path d="M24.2,286.19H170.5 M24.2,279.81H170.5 M24.2,276.61H170.5 M24.2,273.42H170.5 M24.2,267.02H170.5 M24.2,263.83H170.5 M24.2,260.63H170.5 M24.2,254.25H170.5 M24.2,251.05H170.5 M24.2,247.85H170.5 M24.2,241.47H170.5 M24.2,238.27H170.5 M24.2,235.07H170.5 M24.2,228.69H170.5 M24.2,225.49H170.5 M24.2,222.29H170.5 M24.2,215.91H170.5 M24.2,212.71H170.5 M24.2,209.51H170.5 M24.2,203.12H170.5 M24.2,199.93H170.5 M24.2,196.73H170.5 M24.2,190.34H170.5 M24.2,187.15H170.5 M24.2,183.95H170.5 M24.2,177.56H170.5" stroke="#f5f5f5" stroke-width="0.8" fill="none"/>
<path d="M60.78,174.4V289.4 M97.35,174.4V289.4 M133.93,174.4V289.4 M24.2,283.00H170.5 M24.2,270.22H170.5 M24.2,257.44H170.5 M24.2,244.66H170.5 M24.2,231.88H170.5 M24.2,219.10H170.5 M24.2,206.32H170.5 M24.2,193.54H170.5 M24.2,180.76H170.5" stroke="#ebebeb" stroke-width="0.9" fill="none"/>
<rect x="24.2" y="174.4" width="146.30" height="115.00" fill="none" stroke="#858585" stroke-width="1.0"/>
<path d="M24.20,289.4v-1.5M24.20,174.4v1.5M60.78,289.4v-1.5M60.78,174.4v1.5M97.35,289.4v-1.5M97.35,174.4v1.5M133.93,289.4v-1.5M133.93,174.4v1.5M170.50,289.4v-1.5M170.50,174.4v1.5M24.2,283.00h1.5M170.5,283.00h-1.5M24.2,270.22h1.5M170.5,270.22h-1.5M24.2,257.44h1.5M170.5,257.44h-1.5M24.2,244.66h1.5M170.5,244.66h-1.5M24.2,231.88h1.5M170.5,231.88h-1.5M24.2,219.10h1.5M170.5,219.10h-1.5M24.2,206.32h1.5M170.5,206.32h-1.5M24.2,193.54h1.5M170.5,193.54h-1.5M24.2,180.76h1.5M170.5,180.76h-1.5" stroke="#777" stroke-width="0.7" fill="none"/>
<text transform="translate(24.20,295.50) scale(0.95,1.15)" font-size="4.5" fill="#333" text-anchor="middle">1</text>
<text transform="translate(60.78,295.50) scale(0.95,1.15)" font-size="4.5" fill="#333" text-anchor="middle">2</text>
<text transform="translate(97.35,295.50) scale(0.95,1.15)" font-size="4.5" fill="#333" text-anchor="middle">3</text>
<text transform="translate(133.93,295.50) scale(0.95,1.15)" font-size="4.5" fill="#333" text-anchor="middle">4</text>
<text transform="translate(170.50,295.50) scale(0.95,1.15)" font-size="4.5" fill="#333" text-anchor="middle">5</text>
<text transform="translate(22.00,285.40) scale(0.95,1.15)" font-size="4.5" fill="#333" text-anchor="end">0.8</text>
<text transform="translate(22.00,272.62) scale(0.95,1.15)" font-size="4.5" fill="#333" text-anchor="end">1</text>
<text transform="translate(22.00,259.84) scale(0.95,1.15)" font-size="4.5" fill="#333" text-anchor="end">1.2</text>
<text transform="translate(22.00,247.06) scale(0.95,1.15)" font-size="4.5" fill="#333" text-anchor="end">1.4</text>
<text transform="translate(22.00,234.28) scale(0.95,1.15)" font-size="4.5" fill="#333" text-anchor="end">1.6</text>
<text transform="translate(22.00,221.50) scale(0.95,1.15)" font-size="4.5" fill="#333" text-anchor="end">1.8</text>
<text transform="translate(22.00,208.72) scale(0.95,1.15)" font-size="4.5" fill="#333" text-anchor="end">2</text>
<text transform="translate(22.00,195.94) scale(0.95,1.15)" font-size="4.5" fill="#333" text-anchor="end">2.2</text>
<text transform="translate(22.00,183.16) scale(0.95,1.15)" font-size="4.5" fill="#333" text-anchor="end">2.4</text>
<path d="M24.20,189.60 25.43,193.57 26.66,197.51 27.89,201.43 29.12,205.30 30.35,209.14 31.58,212.92 32.81,216.65 34.04,220.31 35.26,223.91 36.49,227.43 37.72,230.86 38.95,234.21 40.18,237.46 41.41,240.62 42.64,243.66 43.87,246.59 45.10,249.40 46.33,252.08 47.56,254.62 48.79,257.03 50.02,259.29 51.25,261.39 52.48,263.34 53.71,265.12 54.94,266.73 56.16,268.15 57.39,269.40 58.62,270.44 59.85,271.30 61.08,271.95 62.31,272.53 63.54,273.10 64.77,273.64 66.00,274.18 67.23,274.69 68.46,275.19 69.69,275.67 70.92,276.14 72.15,276.59 73.38,277.02 74.61,277.43 75.84,277.82 77.06,278.20 78.29,278.56 79.52,278.90 80.75,279.22 81.98,279.53 83.21,279.81 84.44,280.08 85.67,280.32 86.90,280.55 88.13,280.76 89.36,280.95 90.59,281.12 91.82,281.27 93.05,281.40 94.28,281.51 95.51,281.60 96.74,281.67 97.96,281.72 99.19,281.77 100.42,281.81 101.65,281.85 102.88,281.89 104.11,281.92 105.34,281.95 106.57,281.98 107.80,282.01 109.03,282.03 110.26,282.06 111.49,282.08 112.72,282.10 113.95,282.12 115.18,282.14 116.41,282.16 117.64,282.18 118.86,282.19 120.09,282.21 121.32,282.23 122.55,282.25 123.78,282.27 125.01,282.29 126.24,282.32 127.47,282.34 128.70,282.37 129.93,282.39 131.16,282.42 132.39,282.46 133.62,282.49 134.85,282.53 136.08,282.57 137.31,282.61 138.54,282.65 139.76,282.70 140.99,282.75 142.22,282.79 143.45,282.85 144.68,282.90 145.91,282.95 147.14,283.01 148.37,283.06 149.60,283.12 150.83,283.18 152.06,283.24 153.29,283.31 154.52,283.37 155.75,283.43 156.98,283.50 158.21,283.57 159.44,283.64 160.66,283.71 161.89,283.78 163.12,283.85 164.35,283.92 165.58,284.00 166.81,284.07 168.04,284.15 169.27,284.22 170.50,284.30" stroke="#2C88CE" stroke-width="1.35" fill="none" stroke-linejoin="round"/>
<circle cx="24.20" cy="189.60" r="1.45" fill="#0A6CB8"/><circle cx="60.78" cy="271.80" r="1.45" fill="#0A6CB8"/><circle cx="97.35" cy="281.70" r="1.45" fill="#0A6CB8"/><circle cx="133.93" cy="282.50" r="1.45" fill="#0A6CB8"/><circle cx="170.50" cy="284.30" r="1.45" fill="#0A6CB8"/>
<path d="M24.20,182.20 25.43,186.72 26.66,191.22 27.89,195.70 29.12,200.14 30.35,204.54 31.58,208.89 32.81,213.17 34.04,217.39 35.26,221.52 36.49,225.56 37.72,229.50 38.95,233.33 40.18,237.04 41.41,240.63 42.64,244.08 43.87,247.38 45.10,250.52 46.33,253.51 47.56,256.31 48.79,258.94 50.02,261.37 51.25,263.60 52.48,265.62 53.71,267.41 54.94,268.98 56.16,270.31 57.39,271.39 58.62,272.21 59.85,272.77 61.08,273.05 62.31,273.25 63.54,273.43 64.77,273.60 66.00,273.76 67.23,273.90 68.46,274.04 69.69,274.16 70.92,274.28 72.15,274.38 73.38,274.48 74.61,274.58 75.84,274.67 77.06,274.75 78.29,274.83 79.52,274.91 80.75,274.98 81.98,275.05 83.21,275.13 84.44,275.20 85.67,275.27 86.90,275.35 88.13,275.43 89.36,275.51 90.59,275.60 91.82,275.69 93.05,275.79 94.28,275.90 95.51,276.01 96.74,276.13 97.96,276.27 99.19,276.42 100.42,276.58 101.65,276.75 102.88,276.93 104.11,277.12 105.34,277.32 106.57,277.53 107.80,277.75 109.03,277.96 110.26,278.18 111.49,278.41 112.72,278.63 113.95,278.86 115.18,279.08 116.41,279.30 117.64,279.51 118.86,279.72 120.09,279.93 121.32,280.12 122.55,280.31 123.78,280.49 125.01,280.65 126.24,280.81 127.47,280.94 128.70,281.07 129.93,281.18 131.16,281.27 132.39,281.34 133.62,281.39 134.85,281.43 136.08,281.46 137.31,281.50 138.54,281.53 139.76,281.56 140.99,281.59 142.22,281.62 143.45,281.65 144.68,281.68 145.91,281.71 147.14,281.74 148.37,281.76 149.60,281.79 150.83,281.81 152.06,281.83 153.29,281.85 154.52,281.87 155.75,281.89 156.98,281.91 158.21,281.92 159.44,281.94 160.66,281.95 161.89,281.96 163.12,281.97 164.35,281.98 165.58,281.99 166.81,281.99 168.04,282.00 169.27,282.00 170.50,282.00" stroke="#EB6933" stroke-width="1.35" fill="none" stroke-linejoin="round"/>
<circle cx="24.20" cy="182.20" r="1.45" fill="#D9531E"/><circle cx="60.78" cy="273.00" r="1.45" fill="#D9531E"/><circle cx="97.35" cy="276.20" r="1.45" fill="#D9531E"/><circle cx="133.93" cy="281.40" r="1.45" fill="#D9531E"/><circle cx="170.50" cy="282.00" r="1.45" fill="#D9531E"/>
<path d="M24.20,187.30 25.43,191.57 26.66,195.82 27.89,200.04 29.12,204.22 30.35,208.36 31.58,212.45 32.81,216.48 34.04,220.44 35.26,224.33 36.49,228.13 37.72,231.84 38.95,235.45 40.18,238.95 41.41,242.34 42.64,245.60 43.87,248.73 45.10,251.72 46.33,254.56 47.56,257.24 48.79,259.76 50.02,262.11 51.25,264.28 52.48,266.26 53.71,268.05 54.94,269.63 56.16,271.00 57.39,272.14 58.62,273.06 59.85,273.75 61.08,274.19 62.31,274.56 63.54,274.90 64.77,275.23 66.00,275.54 67.23,275.83 68.46,276.11 69.69,276.38 70.92,276.63 72.15,276.86 73.38,277.09 74.61,277.30 75.84,277.51 77.06,277.70 78.29,277.88 79.52,278.06 80.75,278.22 81.98,278.38 83.21,278.54 84.44,278.69 85.67,278.83 86.90,278.97 88.13,279.11 89.36,279.24 90.59,279.37 91.82,279.50 93.05,279.63 94.28,279.76 95.51,279.90 96.74,280.03 97.96,280.17 99.19,280.30 100.42,280.43 101.65,280.56 102.88,280.69 104.11,280.81 105.34,280.93 106.57,281.05 107.80,281.17 109.03,281.28 110.26,281.39 111.49,281.50 112.72,281.61 113.95,281.72 115.18,281.82 116.41,281.92 117.64,282.02 118.86,282.12 120.09,282.21 121.32,282.31 122.55,282.40 123.78,282.49 125.01,282.58 126.24,282.67 127.47,282.76 128.70,282.84 129.93,282.93 131.16,283.01 132.39,283.10 133.62,283.18 134.85,283.26 136.08,283.34 137.31,283.42 138.54,283.50 139.76,283.58 140.99,283.66 142.22,283.73 143.45,283.81 144.68,283.89 145.91,283.96 147.14,284.03 148.37,284.10 149.60,284.18 150.83,284.25 152.06,284.31 153.29,284.38 154.52,284.45 155.75,284.51 156.98,284.58 158.21,284.64 159.44,284.70 160.66,284.76 161.89,284.82 163.12,284.88 164.35,284.94 165.58,284.99 166.81,285.05 168.04,285.10 169.27,285.15 170.50,285.20" stroke="#F1BA3A" stroke-width="1.35" fill="none" stroke-linejoin="round"/>
<circle cx="24.20" cy="187.30" r="1.45" fill="#EAAE22"/><circle cx="60.78" cy="274.10" r="1.45" fill="#EAAE22"/><circle cx="97.35" cy="280.10" r="1.45" fill="#EAAE22"/><circle cx="133.93" cy="283.20" r="1.45" fill="#EAAE22"/><circle cx="170.50" cy="285.20" r="1.45" fill="#EAAE22"/>
<rect x="133.60" y="177.50" width="32.6" height="16.4" fill="#fff" stroke="#c8c8c8" stroke-width="0.8"/>
<path d="M135.20,181.40h13.4" stroke="#2C88CE" stroke-width="1.35" opacity="0.75"/>
<text x="149.90" y="183.00" font-size="4.9" fill="#1a1a1a" stroke="#1a1a1a" stroke-width="0.12" textLength="14.9" lengthAdjust="spacingAndGlyphs">Sample 1</text>
<path d="M135.20,186.10h13.4" stroke="#EB6933" stroke-width="1.35" opacity="0.75"/>
<text x="149.90" y="187.70" font-size="4.9" fill="#1a1a1a" stroke="#1a1a1a" stroke-width="0.12" textLength="14.9" lengthAdjust="spacingAndGlyphs">Sample 2</text>
<path d="M135.20,190.80h13.4" stroke="#F1BA3A" stroke-width="1.35" opacity="0.75"/>
<text x="149.90" y="192.40" font-size="4.9" fill="#1a1a1a" stroke="#1a1a1a" stroke-width="0.12" textLength="14.9" lengthAdjust="spacingAndGlyphs">Sample 3</text>
<text x="95.6" y="168.8" font-size="11.5" fill="#222" stroke="#222" stroke-width="0.22" text-anchor="middle" textLength="16.2" lengthAdjust="spacingAndGlyphs">c30</text>
<text x="96.2" y="306.1" font-size="9.1" fill="#222" stroke="#222" stroke-width="0.15" text-anchor="middle">Load number</text>
<text transform="translate(11.3,237.9) rotate(-90)" font-size="8.3" fill="#2a2a2a" stroke="#2a2a2a" stroke-width="0.1" text-anchor="middle" textLength="72.0" lengthAdjust="spacingAndGlyphs">Critical Force, <tspan font-style="italic">CF</tspan> (N)</text>
<text class="s" x="5.8" y="310.5" font-size="14.5" fill="#1a1a1a">d</text>
<text class="s" x="14.6" y="310.5" font-size="14.5" fill="#1a1a1a">)</text>
<path d="M220.62,174.4V289.1 M227.94,174.4V289.1 M235.26,174.4V289.1 M242.58,174.4V289.1 M257.22,174.4V289.1 M264.54,174.4V289.1 M271.86,174.4V289.1 M279.18,174.4V289.1 M293.82,174.4V289.1 M301.14,174.4V289.1 M308.46,174.4V289.1 M315.78,174.4V289.1 M330.42,174.4V289.1 M337.74,174.4V289.1 M345.06,174.4V289.1 M352.38,174.4V289.1" stroke="#f9f9f9" stroke-width="0.8" fill="none"/>
<path d="M213.3,278.78H359.7 M213.3,281.76H359.7 M213.3,284.74H359.7 M213.3,287.72H359.7 M213.3,272.82H359.7 M213.3,269.84H359.7 M213.3,266.86H359.7 M213.3,263.88H359.7 M213.3,257.92H359.7 M213.3,254.94H359.7 M213.3,251.96H359.7 M213.3,248.98H359.7 M213.3,243.02H359.7 M213.3,240.04H359.7 M213.3,237.06H359.7 M213.3,234.08H359.7 M213.3,228.12H359.7 M213.3,225.14H359.7 M213.3,222.16H359.7 M213.3,219.18H359.7 M213.3,213.22H359.7 M213.3,210.24H359.7 M213.3,207.26H359.7 M213.3,204.28H359.7 M213.3,198.32H359.7 M213.3,195.34H359.7 M213.3,192.36H359.7 M213.3,189.38H359.7 M213.3,183.42H359.7 M213.3,180.44H359.7 M213.3,177.46H359.7" stroke="#f5f5f5" stroke-width="0.8" fill="none"/>
<path d="M249.90,174.4V289.1 M286.50,174.4V289.1 M323.10,174.4V289.1 M213.3,275.80H359.7 M213.3,260.90H359.7 M213.3,246.00H359.7 M213.3,231.10H359.7 M213.3,216.20H359.7 M213.3,201.30H359.7 M213.3,186.40H359.7" stroke="#ebebeb" stroke-width="0.9" fill="none"/>
<rect x="213.3" y="174.4" width="146.40" height="114.70" fill="none" stroke="#858585" stroke-width="1.0"/>
<path d="M213.30,289.1v-1.5M213.30,174.4v1.5M249.90,289.1v-1.5M249.90,174.4v1.5M286.50,289.1v-1.5M286.50,174.4v1.5M323.10,289.1v-1.5M323.10,174.4v1.5M359.70,289.1v-1.5M359.70,174.4v1.5M213.3,275.80h1.5M359.7,275.80h-1.5M213.3,260.90h1.5M359.7,260.90h-1.5M213.3,246.00h1.5M359.7,246.00h-1.5M213.3,231.10h1.5M359.7,231.10h-1.5M213.3,216.20h1.5M359.7,216.20h-1.5M213.3,201.30h1.5M359.7,201.30h-1.5M213.3,186.40h1.5M359.7,186.40h-1.5" stroke="#777" stroke-width="0.7" fill="none"/>
<text transform="translate(213.30,295.20) scale(0.95,1.15)" font-size="4.5" fill="#333" text-anchor="middle">1</text>
<text transform="translate(249.90,295.20) scale(0.95,1.15)" font-size="4.5" fill="#333" text-anchor="middle">2</text>
<text transform="translate(286.50,295.20) scale(0.95,1.15)" font-size="4.5" fill="#333" text-anchor="middle">3</text>
<text transform="translate(323.10,295.20) scale(0.95,1.15)" font-size="4.5" fill="#333" text-anchor="middle">4</text>
<text transform="translate(359.70,295.20) scale(0.95,1.15)" font-size="4.5" fill="#333" text-anchor="middle">5</text>
<text transform="translate(211.10,278.20) scale(0.95,1.15)" font-size="4.5" fill="#333" text-anchor="end">2</text>
<text transform="translate(211.10,263.30) scale(0.95,1.15)" font-size="4.5" fill="#333" text-anchor="end">2.5</text>
<text transform="translate(211.10,248.40) scale(0.95,1.15)" font-size="4.5" fill="#333" text-anchor="end">3</text>
<text transform="translate(211.10,233.50) scale(0.95,1.15)" font-size="4.5" fill="#333" text-anchor="end">3.5</text>
<text transform="translate(211.10,218.60) scale(0.95,1.15)" font-size="4.5" fill="#333" text-anchor="end">4</text>
<text transform="translate(211.10,203.70) scale(0.95,1.15)" font-size="4.5" fill="#333" text-anchor="end">4.5</text>
<text transform="translate(211.10,188.80) scale(0.95,1.15)" font-size="4.5" fill="#333" text-anchor="end">5</text>
<path d="M213.30,184.30 214.53,188.77 215.76,193.22 216.99,197.64 218.22,202.03 219.45,206.36 220.68,210.64 221.91,214.86 223.14,219.01 224.37,223.08 225.60,227.06 226.83,230.94 228.06,234.72 229.29,238.39 230.52,241.94 231.75,245.36 232.98,248.64 234.21,251.78 235.44,254.76 236.67,257.58 237.91,260.23 239.14,262.71 240.37,264.99 241.60,267.09 242.83,268.98 244.06,270.66 245.29,272.12 246.52,273.35 247.75,274.35 248.98,275.10 250.21,275.61 251.44,276.03 252.67,276.43 253.90,276.82 255.13,277.18 256.36,277.53 257.59,277.87 258.82,278.18 260.05,278.48 261.28,278.77 262.51,279.04 263.74,279.30 264.97,279.55 266.20,279.78 267.43,280.00 268.66,280.22 269.89,280.42 271.12,280.61 272.35,280.80 273.58,280.97 274.81,281.14 276.04,281.30 277.27,281.46 278.50,281.61 279.73,281.75 280.96,281.90 282.19,282.03 283.42,282.17 284.65,282.30 285.88,282.43 287.12,282.56 288.35,282.69 289.58,282.81 290.81,282.93 292.04,283.04 293.27,283.14 294.50,283.24 295.73,283.34 296.96,283.44 298.19,283.53 299.42,283.61 300.65,283.70 301.88,283.78 303.11,283.87 304.34,283.95 305.57,284.03 306.80,284.10 308.03,284.18 309.26,284.26 310.49,284.34 311.72,284.41 312.95,284.49 314.18,284.57 315.41,284.65 316.64,284.73 317.87,284.82 319.10,284.90 320.33,284.99 321.56,285.08 322.79,285.18 324.02,285.27 325.25,285.37 326.48,285.47 327.71,285.57 328.94,285.67 330.17,285.77 331.40,285.87 332.63,285.97 333.86,286.07 335.09,286.17 336.33,286.27 337.56,286.37 338.79,286.48 340.02,286.58 341.25,286.69 342.48,286.79 343.71,286.89 344.94,287.00 346.17,287.11 347.40,287.21 348.63,287.32 349.86,287.43 351.09,287.53 352.32,287.64 353.55,287.75 354.78,287.86 356.01,287.97 357.24,288.08 358.47,288.19 359.70,288.30" stroke="#2C88CE" stroke-width="1.35" fill="none" stroke-linejoin="round"/>
<circle cx="213.30" cy="184.30" r="1.45" fill="#0A6CB8"/><circle cx="249.90" cy="275.50" r="1.45" fill="#0A6CB8"/><circle cx="286.50" cy="282.50" r="1.45" fill="#0A6CB8"/><circle cx="323.10" cy="285.20" r="1.45" fill="#0A6CB8"/><circle cx="359.70" cy="288.30" r="1.45" fill="#0A6CB8"/>
<path d="M213.30,178.20 214.53,182.97 215.76,187.73 216.99,192.45 218.22,197.13 219.45,201.77 220.68,206.35 221.91,210.86 223.14,215.29 224.37,219.64 225.60,223.90 226.83,228.05 228.06,232.09 229.29,236.01 230.52,239.79 231.75,243.44 232.98,246.94 234.21,250.27 235.44,253.45 236.67,256.44 237.91,259.25 239.14,261.86 240.37,264.27 241.60,266.46 242.83,268.44 244.06,270.18 245.29,271.68 246.52,272.93 247.75,273.92 248.98,274.64 250.21,275.09 251.44,275.45 252.67,275.79 253.90,276.11 255.13,276.41 256.36,276.70 257.59,276.97 258.82,277.22 260.05,277.46 261.28,277.69 262.51,277.90 263.74,278.10 264.97,278.29 266.20,278.48 267.43,278.65 268.66,278.81 269.89,278.97 271.12,279.13 272.35,279.27 273.58,279.42 274.81,279.56 276.04,279.69 277.27,279.83 278.50,279.97 279.73,280.10 280.96,280.24 282.19,280.38 283.42,280.52 284.65,280.67 285.88,280.82 287.12,280.98 288.35,281.14 289.58,281.29 290.81,281.44 292.04,281.60 293.27,281.75 294.50,281.90 295.73,282.04 296.96,282.19 298.19,282.33 299.42,282.48 300.65,282.62 301.88,282.75 303.11,282.89 304.34,283.03 305.57,283.16 306.80,283.29 308.03,283.42 309.26,283.54 310.49,283.67 311.72,283.79 312.95,283.91 314.18,284.03 315.41,284.14 316.64,284.25 317.87,284.36 319.10,284.47 320.33,284.57 321.56,284.68 322.79,284.78 324.02,284.87 325.25,284.97 326.48,285.06 327.71,285.16 328.94,285.25 330.17,285.34 331.40,285.43 332.63,285.52 333.86,285.61 335.09,285.70 336.33,285.79 337.56,285.87 338.79,285.95 340.02,286.03 341.25,286.11 342.48,286.19 343.71,286.27 344.94,286.34 346.17,286.42 347.40,286.49 348.63,286.56 349.86,286.63 351.09,286.69 352.32,286.76 353.55,286.82 354.78,286.88 356.01,286.94 357.24,286.99 358.47,287.05 359.70,287.10" stroke="#EB6933" stroke-width="1.35" fill="none" stroke-linejoin="round"/>
<circle cx="213.30" cy="178.20" r="1.45" fill="#D9531E"/><circle cx="249.90" cy="275.00" r="1.45" fill="#D9531E"/><circle cx="286.50" cy="280.90" r="1.45" fill="#D9531E"/><circle cx="323.10" cy="284.80" r="1.45" fill="#D9531E"/><circle cx="359.70" cy="287.10" r="1.45" fill="#D9531E"/>
<path d="M213.30,193.00 214.53,196.53 215.76,200.03 216.99,203.50 218.22,206.94 219.45,210.34 220.68,213.70 221.91,217.00 223.14,220.25 224.37,223.44 225.60,226.56 226.83,229.61 228.06,232.59 229.29,235.48 230.52,238.29 231.75,241.00 232.98,243.62 234.21,246.14 235.44,248.54 236.67,250.84 237.91,253.02 239.14,255.07 240.37,257.00 241.60,258.79 242.83,260.44 244.06,261.95 245.29,263.31 246.52,264.52 247.75,265.57 248.98,266.45 250.21,267.17 251.44,267.82 252.67,268.45 253.90,269.05 255.13,269.64 256.36,270.20 257.59,270.74 258.82,271.27 260.05,271.77 261.28,272.25 262.51,272.71 263.74,273.16 264.97,273.58 266.20,273.99 267.43,274.38 268.66,274.75 269.89,275.11 271.12,275.45 272.35,275.77 273.58,276.08 274.81,276.37 276.04,276.65 277.27,276.92 278.50,277.17 279.73,277.41 280.96,277.63 282.19,277.84 283.42,278.05 284.65,278.24 285.88,278.41 287.12,278.58 288.35,278.75 289.58,278.90 290.81,279.06 292.04,279.20 293.27,279.35 294.50,279.48 295.73,279.62 296.96,279.75 298.19,279.87 299.42,279.99 300.65,280.11 301.88,280.22 303.11,280.33 304.34,280.43 305.57,280.53 306.80,280.63 308.03,280.73 309.26,280.82 310.49,280.91 311.72,281.00 312.95,281.08 314.18,281.16 315.41,281.24 316.64,281.32 317.87,281.40 319.10,281.47 320.33,281.54 321.56,281.61 322.79,281.68 324.02,281.75 325.25,281.82 326.48,281.89 327.71,281.95 328.94,282.02 330.17,282.08 331.40,282.15 332.63,282.21 333.86,282.27 335.09,282.33 336.33,282.39 337.56,282.45 338.79,282.51 340.02,282.56 341.25,282.62 342.48,282.67 343.71,282.72 344.94,282.77 346.17,282.82 347.40,282.86 348.63,282.91 349.86,282.95 351.09,282.99 352.32,283.02 353.55,283.06 354.78,283.09 356.01,283.12 357.24,283.15 358.47,283.18 359.70,283.20" stroke="#F1BA3A" stroke-width="1.35" fill="none" stroke-linejoin="round"/>
<circle cx="213.30" cy="193.00" r="1.45" fill="#EAAE22"/><circle cx="249.90" cy="267.00" r="1.45" fill="#EAAE22"/><circle cx="286.50" cy="278.50" r="1.45" fill="#EAAE22"/><circle cx="323.10" cy="281.70" r="1.45" fill="#EAAE22"/><circle cx="359.70" cy="283.20" r="1.45" fill="#EAAE22"/>
<rect x="322.70" y="177.50" width="32.6" height="16.4" fill="#fff" stroke="#c8c8c8" stroke-width="0.8"/>
<path d="M324.30,181.40h13.4" stroke="#2C88CE" stroke-width="1.35" opacity="0.75"/>
<text x="339.00" y="183.00" font-size="4.9" fill="#1a1a1a" stroke="#1a1a1a" stroke-width="0.12" textLength="14.9" lengthAdjust="spacingAndGlyphs">Sample 1</text>
<path d="M324.30,186.10h13.4" stroke="#EB6933" stroke-width="1.35" opacity="0.75"/>
<text x="339.00" y="187.70" font-size="4.9" fill="#1a1a1a" stroke="#1a1a1a" stroke-width="0.12" textLength="14.9" lengthAdjust="spacingAndGlyphs">Sample 2</text>
<path d="M324.30,190.80h13.4" stroke="#F1BA3A" stroke-width="1.35" opacity="0.75"/>
<text x="339.00" y="192.40" font-size="4.9" fill="#1a1a1a" stroke="#1a1a1a" stroke-width="0.12" textLength="14.9" lengthAdjust="spacingAndGlyphs">Sample 3</text>
<text x="285.0" y="168.8" font-size="11.5" fill="#222" stroke="#222" stroke-width="0.22" text-anchor="middle" textLength="16.2" lengthAdjust="spacingAndGlyphs">c40</text>
<text x="289.7" y="306.1" font-size="9.1" fill="#222" stroke="#222" stroke-width="0.15" text-anchor="middle">Load number</text>
<text transform="translate(195.4,236.0) rotate(-90)" font-size="8.3" fill="#2a2a2a" stroke="#2a2a2a" stroke-width="0.1" text-anchor="middle" textLength="74.2" lengthAdjust="spacingAndGlyphs">Critical Force, <tspan font-style="italic">CF</tspan> (N)</text>
<text class="s" x="194.1" y="310.6" font-size="14.5" fill="#1a1a1a">e</text>
<text class="s" x="203.5" y="310.6" font-size="14.5" fill="#1a1a1a">)</text>
</svg></body></html>
